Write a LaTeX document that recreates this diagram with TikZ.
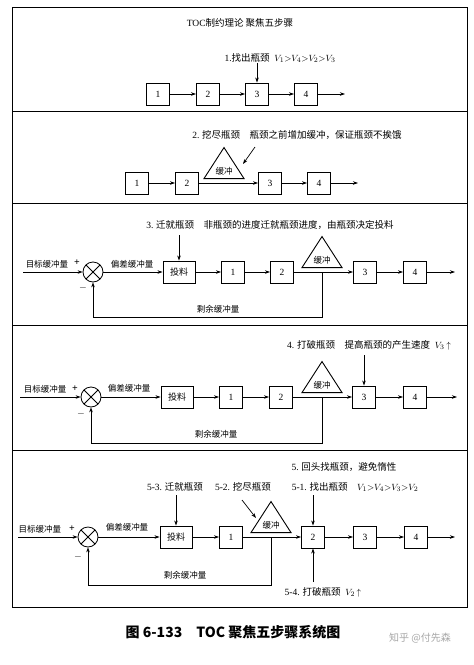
\documentclass[tikz,border=0pt]{standalone}
\usepackage{fontspec}
\setmainfont{Liberation Serif}
\newfontfamily\cjk{Noto Sans CJK SC}
\usetikzlibrary{arrows.meta,positioning,shapes.geometric}
\tikzset{
  blk/.style={draw, line width=0.9pt, minimum width=23pt, minimum height=22pt, inner sep=0pt, font=\fontsize{9.5}{11}\selectfont},
  feedbox/.style={blk, minimum width=32pt, font=\fontsize{9}{11}\selectfont\cjk},
  buf/.style={draw, line width=0.9pt, isosceles triangle, isosceles triangle stretches, shape border rotate=90, minimum width=40pt, minimum height=31pt, inner sep=0pt, anchor=south, font=\fontsize{8.5}{10}\selectfont\cjk},
  sumc/.style={draw, circle, line width=0.8pt, minimum size=20pt, inner sep=0pt,
    path picture={\draw[line width=0.8pt] (path picture bounding box.north west) -- (path picture bounding box.south east)
      (path picture bounding box.south west) -- (path picture bounding box.north east);}},
  flow/.style={-{Stealth[length=5pt,width=3.5pt]}, line width=0.7pt},
  head/.style={font=\fontsize{9.5}{11}\selectfont\cjk},
  note/.style={font=\fontsize{8.5}{10}\selectfont\cjk},
  sgn/.style={font=\fontsize{10}{10}\selectfont\bfseries},
  panel/.style={line width=1pt}
}

\begin{document}
\begin{tikzpicture}[x=1pt,y=-1pt]
  \useasboundingbox (0,0) rectangle (474,665);

  %% --- FRAME ---
  \draw[panel] (12,7) rectangle (467,607);
  \draw[panel] (12,111) -- (467,111);
  \draw[panel] (12,203) -- (467,203);
  \draw[panel] (12,325) -- (467,325);
  \draw[panel] (12,450) -- (467,450);

  %% --- STEP 1 ---
  \node[head] (t1) at (240,23) {\textrm{TOC}制约理论\ 聚焦五步骤};
  \node[head] (s1) at (280,58) {\textrm{1.}找出瓶颈\enspace $V_1{>}V_4{>}V_2{>}V_3$};
  \node[blk] (a1) at (158,94) {1};
  \node[blk] (a2) at (208,94) {2};
  \node[blk] (a3) at (257,94) {3};
  \node[blk] (a4) at (306,94) {4};
  \coordinate (a3k) at (257,63);
  \coordinate (aout) at (345,94);
  \draw[flow] (a1) -- (a2);
  \draw[flow] (a2) -- (a3);
  \draw[flow] (a3) -- (a4);
  \draw[flow] (a4) -- (aout);
  \draw[flow] (a3k) -- (a3);

  %% --- STEP 2 ---
  \node[head] (s2) at (297,135) {\textrm{2.} 挖尽瓶颈\quad 瓶颈之前增加缓冲，保证瓶颈不挨饿};
  \node[blk] (b1) at (137,183) {1};
  \node[blk] (b2) at (187,183) {2};
  \node[buf] (bb) at (224,179) {缓冲};
  \node[blk] (b3) at (270,183) {3};
  \node[blk] (b4) at (319,183) {4};
  \coordinate (bk) at (255,147);
  \coordinate (bke) at (243,164);
  \coordinate (bout) at (358,183);
  \draw[flow] (b1) -- (b2);
  \draw[flow] (b2) -- (b3);
  \draw[flow] (b3) -- (b4);
  \draw[flow] (b4) -- (bout);
  \draw[flow] (bk) -- (bke);

  %% --- STEP 3 ---
  \node[head] (s3) at (270,225) {\textrm{3.} 迁就瓶颈\quad 非瓶颈的进度迁就瓶颈进度，由瓶颈决定投料};
  \node[sumc] (cs) at (93,272) {};
  \node[note] (cin) at (47,264) {目标缓冲量};
  \node[sgn] (cp) at (77,263) {+};
  \node[sgn] (cm) at (83,288) {$-$};
  \node[note] (cerr) at (132,264) {偏差缓冲量};
  \node[feedbox] (ct) at (179,272) {投料};
  \node[blk] (c1) at (233,272) {1};
  \node[blk] (c2) at (282,272) {2};
  \node[buf] (cb) at (322,268) {缓冲};
  \node[blk] (c3) at (365,272) {3};
  \node[blk] (c4) at (415,272) {4};
  \node[note] (crem) at (218,309) {剩余缓冲量};
  \coordinate (c0) at (23,272);
  \coordinate (ck) at (179,235);
  \coordinate (cf) at (322,272);
  \coordinate (cout) at (455,272);
  \draw[flow] (c0) -- (cs);
  \draw[flow] (cs) -- (ct);
  \draw[flow] (ct) -- (c1);
  \draw[flow] (c1) -- (c2);
  \draw[flow] (c2) -- (c3);
  \draw[flow] (c3) -- (c4);
  \draw[flow] (c4) -- (cout);
  \draw[flow] (ck) -- (ct);
  \draw[flow] (cf) -- ++(0,45) -| (cs);

  %% --- STEP 4 ---
  \node[head] (s4) at (369,345) {\textrm{4.} 打破瓶颈\quad 提高瓶颈的产生速度\enspace $V_3\,{\uparrow}$};
  \node[sumc] (ds) at (91,397) {};
  \node[note] (din) at (45,389) {目标缓冲量};
  \node[sgn] (dp) at (75,389) {+};
  \node[sgn] (dm) at (81,414) {$-$};
  \node[note] (derr) at (129,388) {偏差缓冲量};
  \node[feedbox] (dt) at (177,397) {投料};
  \node[blk] (d1) at (231,397) {1};
  \node[blk] (d2) at (281,397) {2};
  \node[buf] (db) at (322,393) {缓冲};
  \node[blk] (d3) at (364,397) {3};
  \node[blk] (d4) at (415,397) {4};
  \node[note] (drem) at (216,434) {剩余缓冲量};
  \coordinate (d0) at (20,397);
  \coordinate (dk) at (364,355);
  \coordinate (df) at (322,397);
  \coordinate (dout) at (457,397);
  \draw[flow] (d0) -- (ds);
  \draw[flow] (ds) -- (dt);
  \draw[flow] (dt) -- (d1);
  \draw[flow] (d1) -- (d2);
  \draw[flow] (d2) -- (d3);
  \draw[flow] (d3) -- (d4);
  \draw[flow] (d4) -- (dout);
  \draw[flow] (dk) -- (d3);
  \draw[flow] (df) -- ++(0,46) -| (ds);

  %% --- STEP 5 ---
  \node[head] (s5) at (344,467) {\textrm{5.} 回头找瓶颈，避免惰性};
  \node[head] (s51) at (355,487) {\textrm{5-1.} 找出瓶颈\quad $V_1{>}V_4{>}V_3{>}V_2$};
  \node[head] (s52) at (243,487) {\textrm{5-2.} 挖尽瓶颈};
  \node[head] (s53) at (175,487) {\textrm{5-3.} 迁就瓶颈};
  \node[head] (s54) at (323,592) {\textrm{5-4.} 打破瓶颈\enspace $V_2\,{\uparrow}$};
  \node[sumc] (es) at (88,537) {};
  \node[note] (ein) at (40,529) {目标缓冲量};
  \node[sgn] (ep) at (72,529) {+};
  \node[sgn] (em) at (78,557) {$-$};
  \node[note] (eerr) at (127,527) {偏差缓冲量};
  \node[feedbox] (et) at (176,537) {投料};
  \node[blk] (e1) at (231,537) {1};
  \node[buf] (eb) at (271,533) {缓冲};
  \node[blk] (e2) at (313,537) {2};
  \node[blk] (e3) at (365,537) {3};
  \node[blk] (e4) at (416,537) {4};
  \node[note] (erem) at (185,575) {剩余缓冲量};
  \coordinate (e0) at (18,537);
  \coordinate (ek3) at (176,495);
  \coordinate (ek2) at (242,500);
  \coordinate (ek2e) at (256,518);
  \coordinate (ek1) at (313,495);
  \coordinate (ek4) at (313,582);
  \coordinate (ef) at (271,537);
  \coordinate (eout) at (455,537);
  \draw[flow] (e0) -- (es);
  \draw[flow] (es) -- (et);
  \draw[flow] (et) -- (e1);
  \draw[flow] (e1) -- (e2);
  \draw[flow] (e2) -- (e3);
  \draw[flow] (e3) -- (e4);
  \draw[flow] (e4) -- (eout);
  \draw[flow] (ek3) -- (et);
  \draw[flow] (ek2) -- (ek2e);
  \draw[flow] (ek1) -- (e2);
  \draw[flow] (ek4) -- (e2);
  \draw[flow] (ef) -- ++(0,48) -| (es);

  %% --- CAPTION ---
  \node[font=\fontsize{14}{16}\selectfont\cjk\bfseries] (cap) at (233,632) {图 6-133\quad TOC 聚焦五步骤系统图};
  \node[font=\fontsize{10}{12}\selectfont\cjk, text=black!35] (wm) at (420,638) {知乎 @付先森};
\end{tikzpicture}
\end{document}
